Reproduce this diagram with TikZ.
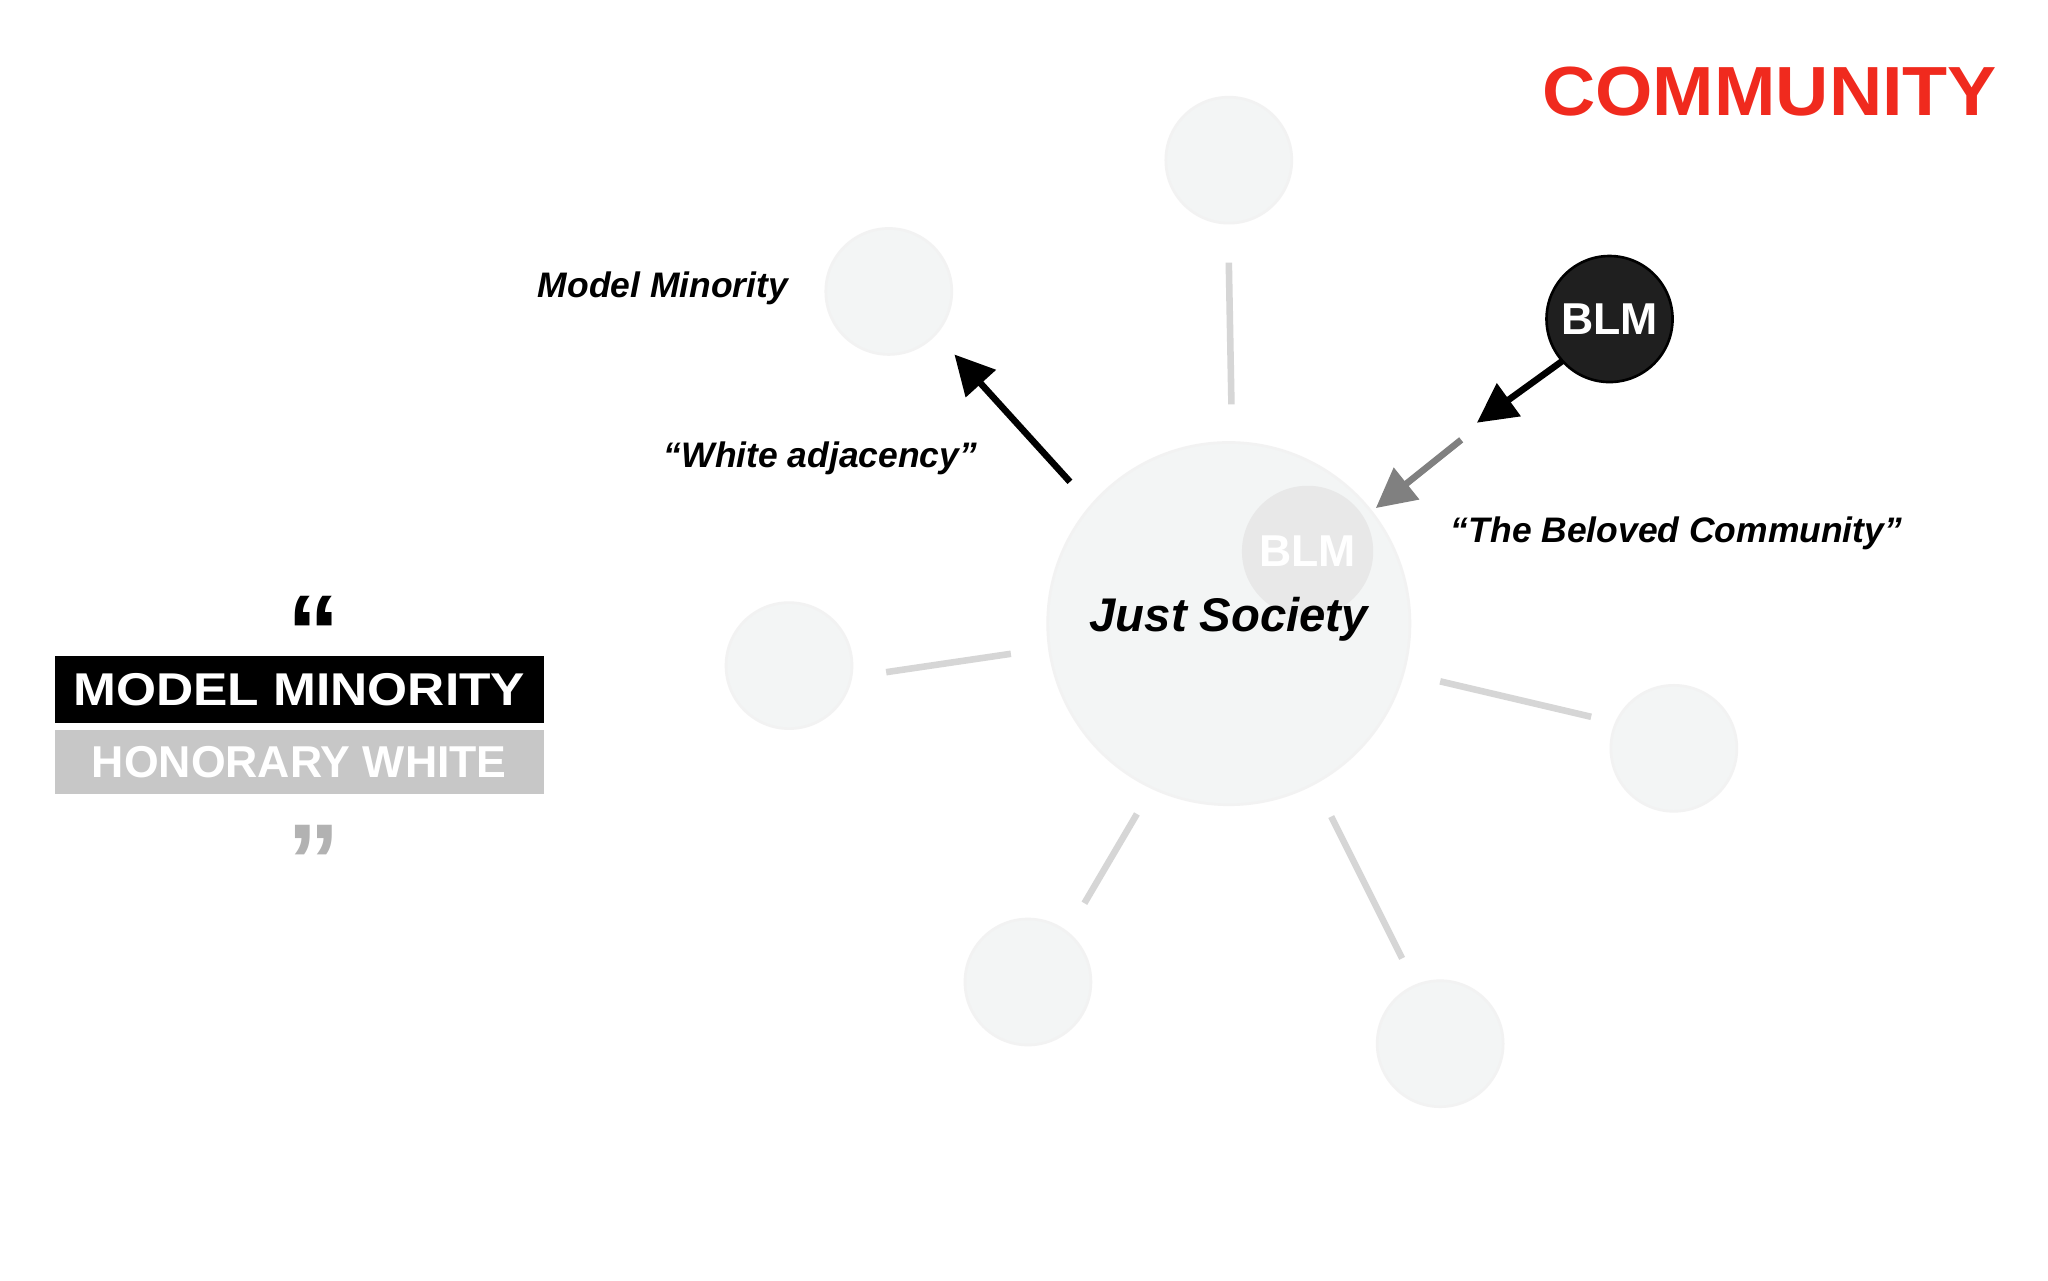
\documentclass[tikz,border=0pt]{standalone}
\usepackage{fontspec}
\setmainfont{Liberation Sans}
\usetikzlibrary{arrows.meta}
\definecolor{cfill}{HTML}{F3F5F5}
\definecolor{spoke}{HTML}{D6D6D6}
\definecolor{redc}{HTML}{F02A1E}
\tikzset{
 sat/.style={circle,fill=cfill,draw=white!90!gray,line width=2pt,minimum size=96pt,inner sep=0pt},
 spk/.style={spoke,line width=5pt},
 lab/.style={font=\fontsize{27}{30}\selectfont\bfseries\itshape},
 arr/.style={line width=5pt,-{Triangle[length=30pt,width=30pt]}},
}
\begin{document}
\begin{tikzpicture}[x=1pt,y=-1pt]
\useasboundingbox[fill=white] (0,0) rectangle (1560,975);
\node[font=\fontsize{53}{56}\selectfont\bfseries,text=redc,xscale=1.06] (comm) at (1348,70) {COMMUNITY};
\node[sat] (top) at (936,122) {};
\node[sat] (mm) at (677,222) {};
\node[sat] (left) at (601,507) {};
\node[sat] (right) at (1275,570) {};
\node[sat] (bl) at (783,748) {};
\node[sat] (br) at (1097,795) {};
\node[circle,fill=cfill,draw=white!90!gray,line width=2pt,minimum size=276pt] (js) at (936,475) {};
\node[circle,fill=black!9,minimum size=100pt,text=white,font=\fontsize{34}{36}\selectfont\bfseries] (blmf) at (996,420) {BLM};
\node[font=\fontsize{36}{40}\selectfont\bfseries\itshape] (jst) at (936,472) {Just Society};
\node[circle,fill=black!88,draw=black,line width=2pt,minimum size=96pt,text=white,font=\fontsize{34}{36}\selectfont\bfseries] (blm) at (1226,243) {BLM};
\coordinate (s1a) at (936,200); \coordinate (s1b) at (938,308);
\coordinate (s2a) at (675,512); \coordinate (s2b) at (770,498);
\coordinate (s3a) at (1097,519); \coordinate (s3b) at (1212,546);
\coordinate (s4a) at (866,620); \coordinate (s4b) at (826,688);
\coordinate (s5a) at (1014,622); \coordinate (s5b) at (1068,730);
\foreach \i in {1,...,5} \draw[spk] (s\i a) -- (s\i b);
\coordinate (a1) at (815,367); \coordinate (a1e) at (727,270);
\draw[arr,black] (a1) -- (a1e);
\coordinate (b1) at (1190,275); \coordinate (b1e) at (1125,322);
\draw[arr,black] (b1) -- (b1e);
\coordinate (g1) at (1113,335); \coordinate (g1e) at (1048,387);
\draw[arr,black!50] (g1) -- (g1e);
\node[lab] (tmm) at (505,220) {Model Minority};
\node[lab] (twa) at (625,349) {“White adjacency”};
\node[lab] (tbc) at (1277,406) {“The Beloved Community”};
\node[fill=black,minimum width=372pt,minimum height=51pt,inner sep=0pt,text=white,font=\fontsize{35}{38}\selectfont\bfseries] (mmb) at (228,525.5) {\scalebox{1.12}[1]{MODEL MINORITY}};
\node[fill=black!22,minimum width=372pt,minimum height=49pt,inner sep=0pt,text=white,font=\fontsize{34}{38}\selectfont\bfseries] (hwb) at (228,580.5) {\scalebox{1.0}[1]{HONORARY WHITE}};
\node[font=\fontsize{80}{80}\selectfont\bfseries,inner sep=0pt] (q1) at (239,482) {“};
\node[font=\fontsize{80}{80}\selectfont\bfseries,text=black!30,inner sep=0pt] (q2) at (239,656) {”};
\end{tikzpicture}
\end{document}
